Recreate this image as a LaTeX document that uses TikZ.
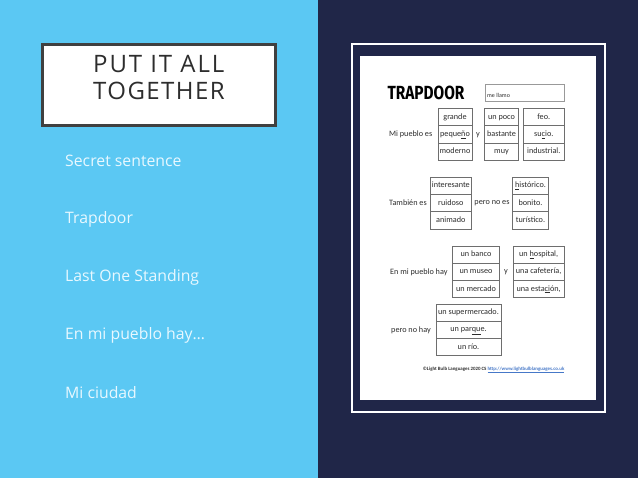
\documentclass[tikz,border=0pt]{standalone}
\usepackage{fontspec}
\usepackage{graphicx}
\setmainfont{Open Sans}
\newfontfamily\sheet{Carlito}
\newfontfamily\logo{Fira Sans}
\definecolor{sky}{RGB}{91,200,243}
\definecolor{navy}{RGB}{32,38,72}
\definecolor{edge}{RGB}{64,64,64}
\definecolor{ink}{RGB}{45,45,45}
\definecolor{cellline}{RGB}{110,110,110}
\definecolor{menu}{RGB}{232,248,255}
\definecolor{linkblue}{RGB}{70,120,200}
\newcommand{\wcell}[6]{%
  \node[cellbox,minimum width=#4pt-#2pt,minimum height=#5pt-#3pt] (#1)
    at ({(#2+#4)/2},{(#3+#5)/2}) {#6};}
\tikzset{
  cellbox/.style={draw=cellline,line width=0.8pt,inner sep=0pt,text=ink,text height=6pt,text depth=1.8pt,
    font=\sheet\fontsize{8.2}{10}\selectfont},
  sheettext/.style={inner sep=0pt,text=ink,font=\sheet\fontsize{8.2}{10}\selectfont},
  menuitem/.style={anchor=west,inner sep=0pt,text=menu,font=\fontsize{15.8}{18}\selectfont},
  titleline/.style={anchor=west,inner sep=0pt,text=ink,font=\fontsize{24}{27}\selectfont}
}
\begin{document}
\begin{tikzpicture}[x=1pt,y=-1pt]
\useasboundingbox (0,0) rectangle (638,478);
\fill[sky] (0,0) rectangle (318,478);
\fill[navy] (318,0) rectangle (638,478);
% title
\node[draw=edge,line width=3pt,fill=white,minimum width=233pt,minimum height=81pt,inner sep=0pt] (title) at (159,85) {};
\node[titleline] (t1) at (93,64) {\addfontfeature{LetterSpace=8}PUT IT ALL};
\node[titleline] (t2) at (93,91) {\addfontfeature{LetterSpace=6}TOGETHER};
% menu
\node[menuitem] (m1) at (65,161) {Secret sentence};
\node[menuitem] (m2) at (65,219) {Trapdoor};
\node[menuitem] (m3) at (65,277) {Last One Standing};
\node[menuitem] (m4) at (65,335) {En mi pueblo hay…};
\node[menuitem] (m5) at (65,393) {Mi ciudad};
% picture frame
\node[draw=white,line width=2pt,minimum width=253pt,minimum height=368pt,inner sep=0pt] (frame) at (478.5,228) {};
\node[fill=white,minimum width=236pt,minimum height=344pt,inner sep=0pt] (page) at (478,228) {};
% worksheet
\node[inner sep=0pt,text=black,font=\logo\bfseries\fontsize{19}{20}\selectfont] (trap) at (426,93) {\scalebox{0.81}[1]{TRAPDOOR}};
\node[draw=cellline!70,line width=0.8pt,minimum width=79pt,minimum height=17pt,inner sep=2pt,anchor=north west] (name) at (485.3,84.3) {};
\node[anchor=west,inner sep=0pt,text=ink,font=\sheet\fontsize{6}{7}\selectfont] (namet) at (487,95.5) {me llamo};
% row 1
\node[sheettext,anchor=west] (r1) at (389,134.5) {Mi pueblo es};
\wcell{a1}{438}{108.3}{472}{125.7}{grande}
\wcell{a2}{438}{125.7}{472}{143}{peque\underline{ñ}o}
\wcell{a3}{438}{143}{472}{160}{moderno}
\node[sheettext] (y1) at (478,135) {y};
\wcell{b1}{484.3}{108.3}{518.7}{125.7}{un poco}
\wcell{b2}{484.3}{125.7}{518.7}{143}{bastante}
\wcell{b3}{484.3}{143}{518.7}{160}{muy}
\wcell{c1}{523.3}{108.3}{564.3}{125.7}{feo.}
\wcell{c2}{523.3}{125.7}{564.3}{143}{su\underline{c}io.}
\wcell{c3}{523.3}{143}{564.3}{160}{industrial.}
% row 2
\node[sheettext,anchor=west] (r2) at (389,203) {También es};
\wcell{d1}{430}{177}{471.7}{194.3}{interesante}
\wcell{d2}{430}{194.3}{471.7}{211.7}{ruidoso}
\wcell{d3}{430}{211.7}{471.7}{229}{animado}
\node[sheettext] (pn) at (492,203.5) {pero no es};
\wcell{e1}{512.3}{177}{548.7}{194.3}{\underline{h}istórico.}
\wcell{e2}{512.3}{194.3}{548.7}{211.7}{bonito.}
\wcell{e3}{512.3}{211.7}{548.7}{229}{turístico.}
% row 3
\node[sheettext,anchor=west] (r3) at (390,272) {En mi pueblo hay};
\wcell{f1}{452.7}{246}{499.3}{263.3}{un banco}
\wcell{f2}{452.7}{263.3}{499.3}{280.3}{un museo}
\wcell{f3}{452.7}{280.3}{499.3}{297.7}{un mercado}
\node[sheettext] (y2) at (506,272.5) {y};
\wcell{g1}{513}{246}{564.3}{263.3}{un \underline{h}ospital,}
\wcell{g2}{513}{263.3}{564.3}{280.3}{una cafetería,}
\wcell{g3}{513}{280.3}{564.3}{297.7}{una esta\underline{ci}ón,}
% row 4
\node[sheettext,anchor=west] (r4) at (391,330.5) {pero no hay};
\wcell{h1}{436}{304}{501}{321.3}{un supermercado.}
\wcell{h2}{436}{321.3}{501}{338.3}{un par\underline{qu}e.}
\wcell{h3}{436}{338.3}{501}{355.7}{un río.}
% footer
\node[anchor=west,inner sep=0pt,text=ink,font=\sheet\bfseries\fontsize{4.9}{6}\selectfont] (foot) at (422.7,369.7)
  {©Light Bulb Languages 2020 CS \textcolor{linkblue}{\underline{http://www.lightbulblanguages.co.uk}}};
\end{tikzpicture}
\end{document}
